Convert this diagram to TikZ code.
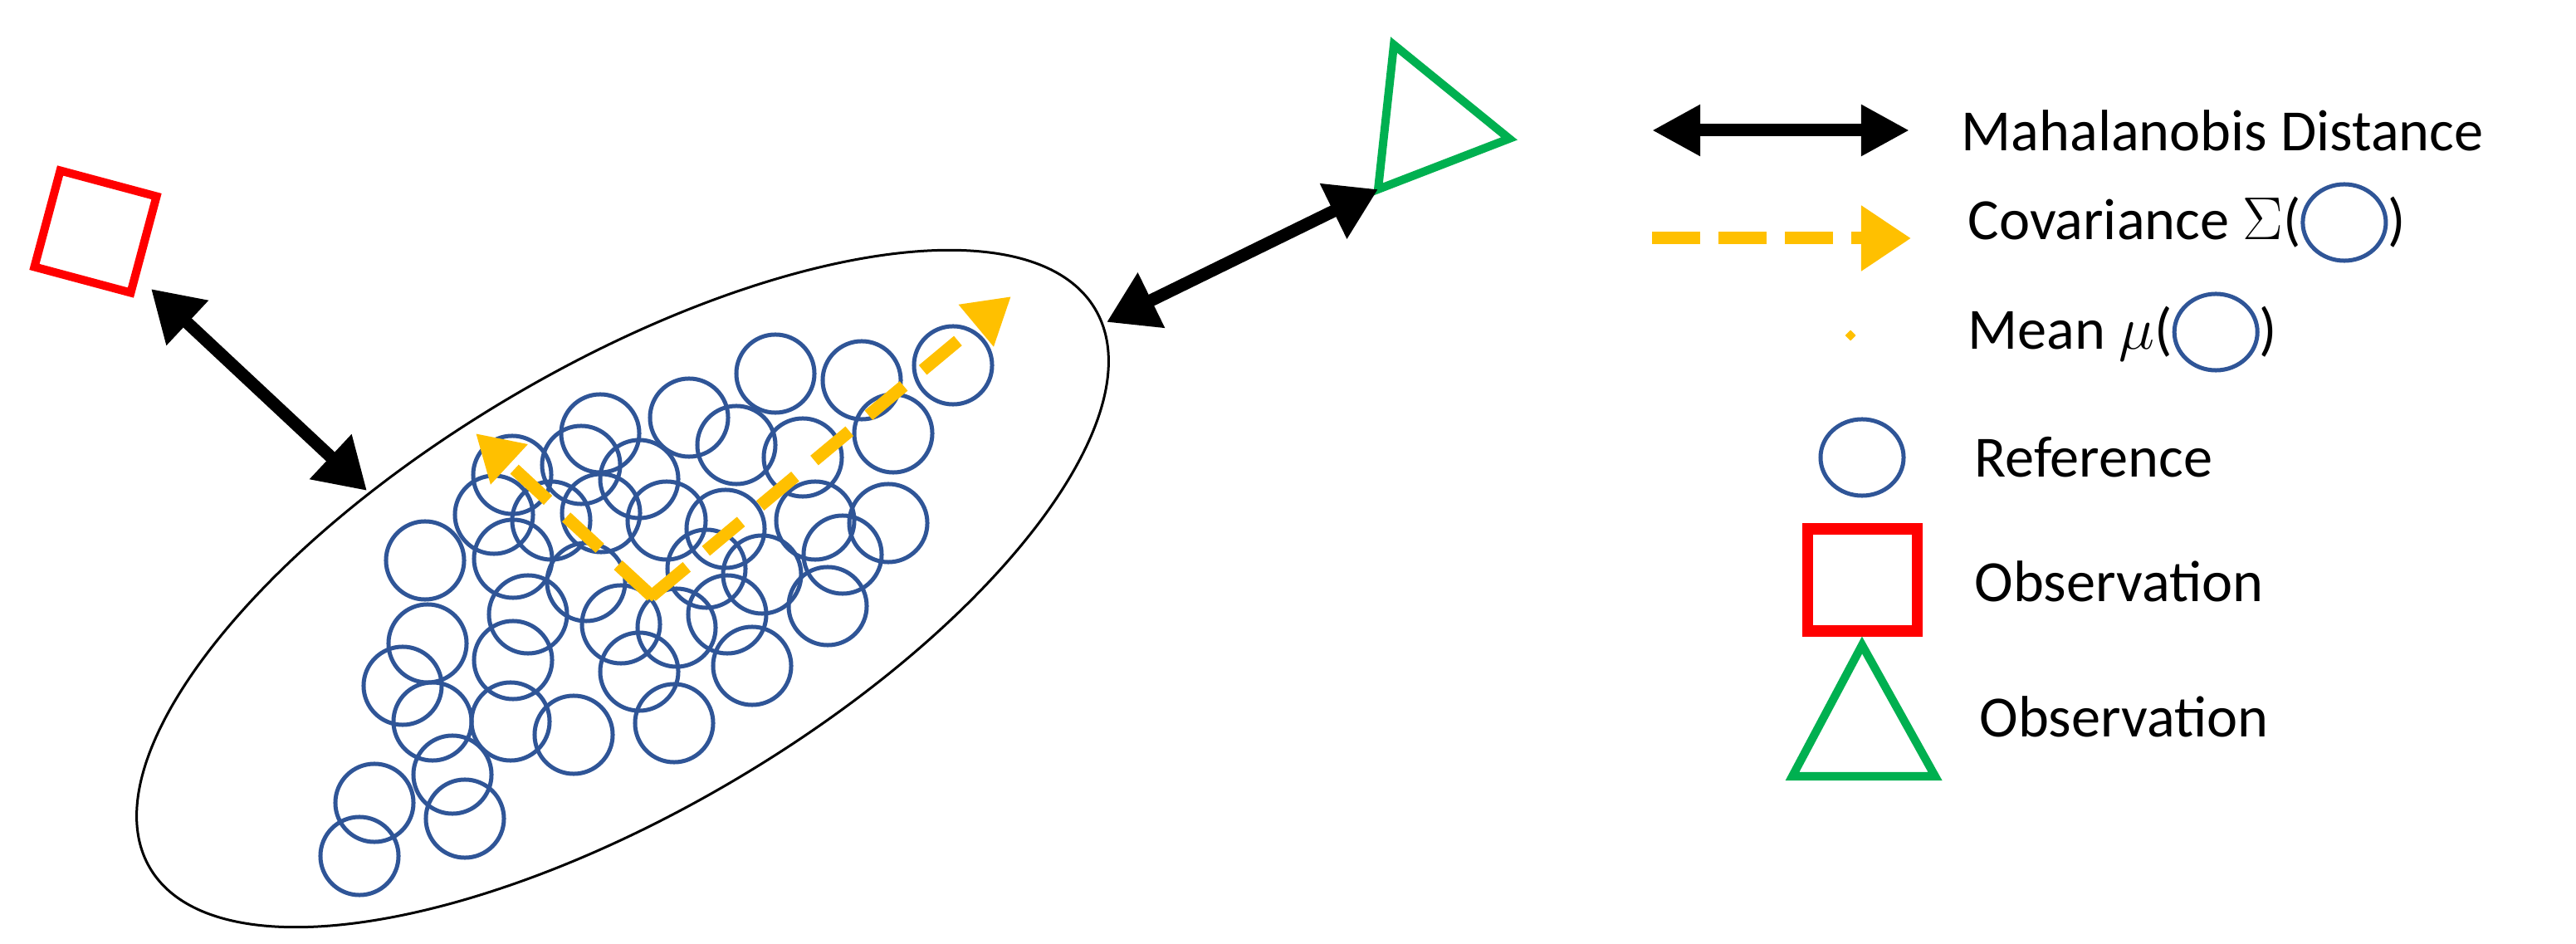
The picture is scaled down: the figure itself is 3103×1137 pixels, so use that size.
\documentclass[tikz,border=0pt]{standalone}
\usepackage{fontspec}
\setmainfont{Carlito}
\usetikzlibrary{arrows.meta}
\definecolor{cblue}{HTML}{2F5597}
\definecolor{cyel}{HTML}{FFC000}
\definecolor{cred}{HTML}{FF0000}
\definecolor{cgreen}{HTML}{00B050}
\tikzset{
  refc/.style={draw=cblue,line width=0.05cm},
  mdist/.style={line width=0.15cm,{Triangle[length=0.6cm,width=0.7cm]}-{Triangle[length=0.6cm,width=0.7cm]}},
  covar/.style={cyel,line width=0.15cm,dash pattern=on 0.55cm off 0.3cm,-{Triangle[length=0.55cm,width=0.62cm]}},
  meanx/.style={draw=cyel,fill=white,line width=0.08cm,line join=miter},
  lbl/.style={anchor=west,inner sep=0pt,font=\fontsize{20}{24}\selectfont},
}
\newcommand{\mycirc}{\tikz[baseline=-0.6ex]\draw[cblue,line width=0.05cm] (0,0) ellipse [x radius=0.5cm,y radius=0.46cm];}
\newcommand{\xshape}[1]{\draw[meanx,rotate around={45:#1},shift={#1}] (0.2,0.6)--(0.2,0.2)--(0.6,0.2)--(0.6,-0.2)--(0.2,-0.2)--(0.2,-0.6)--(-0.2,-0.6)--(-0.2,-0.2)--(-0.6,-0.2)--(-0.6,0.2)--(-0.2,0.2)--(-0.2,0.6)--cycle;}
\begin{document}
\begin{tikzpicture}[x=0.01cm,y=0.01cm]
\useasboundingbox (0,0) rectangle (3103,-1137);
% ellipse
\draw[line width=0.03cm,rotate around={30.6:(750,-709)}] (750,-709) ellipse [x radius=6.61cm,y radius=2.67cm];
% circles
\foreach \x/\y in {934/450,1038/458,1148/440,830/503,887/536,967/551,1076/522,723/522,700/560,770/577,617/572,595/620,664/627,724/618,803/627,874/637,982/627,1070/630,618/673,512/675,706/701,851/685,918/692,1015/668,997/730,636/740,748/752,815/756,876/740,515/775,485/826,618/795,770/809,906/802,521/869,615/869,691/885,812/871,545/933,451/967,560/986,433/1031}
  \draw[refc] (\x,-\y) circle [radius=0.47cm];
% covariance arrows
\coordinate (mu) at (785,-718);
\coordinate (c1) at (1218,-357);
\coordinate (c2) at (573,-522);
\draw[covar] (mu) -- (c1);
\draw[covar] (mu) -- (c2);
\xshape{(785,-718)}
% observations
\node[draw=cred,line width=0.1cm,minimum size=1.2cm,rotate=-15,inner sep=0pt] (sq) at (115,-279) {};
\coordinate (t1) at (1679,-54);
\coordinate (t2) at (1818,-167);
\coordinate (t3) at (1660,-228);
\draw[cgreen,line width=0.1cm,line join=miter] (t1)--(t2)--(t3)--cycle;
\coordinate (eL) at (442,-591);
\coordinate (eR) at (1333,-388);
\coordinate (sqA) at (182,-348);
\draw[mdist] (sqA) -- (eL);
\draw[mdist] (eR) -- (t3);
% legend
\coordinate (l1a) at (1990,-157);
\coordinate (l1b) at (2300,-157);
\draw[line width=0.15cm,{Triangle[length=0.58cm,width=0.58cm]}-{Triangle[length=0.58cm,width=0.58cm]}] (l1a) -- (l1b);
\node[lbl] (t_md) at (2362,-157) {Mahalanobis Distance};
\coordinate (l2a) at (1990,-287);
\coordinate (l2b) at (2302,-287);
\draw[cyel,line width=0.15cm,dash pattern=on 0.58cm off 0.22cm,-{Triangle[length=0.6cm,width=0.75cm]}] (l2a) -- (l2b);
\node[lbl] (t_cov) at (2370,-268) {Covariance $\Sigma$(\mycirc)};
\xshape{(2229,-404)}
\node[lbl] (t_mean) at (2370,-400) {Mean $\mu$(\mycirc)};
\draw[refc] (2243,-551) ellipse [x radius=0.5cm,y radius=0.46cm];
\node[lbl] (t_ref) at (2378,-551) {Reference};
\draw[cred,line width=0.13cm] (2177,-637) rectangle (2309,-760);
\node[lbl] (t_o1) at (2378,-700) {Observation};
\draw[cgreen,line width=0.1cm,line join=miter] (2243,-777)--(2331,-935)--(2159,-935)--cycle;
\node[lbl] (t_o2) at (2384,-863) {Observation};
\end{tikzpicture}
\end{document}
